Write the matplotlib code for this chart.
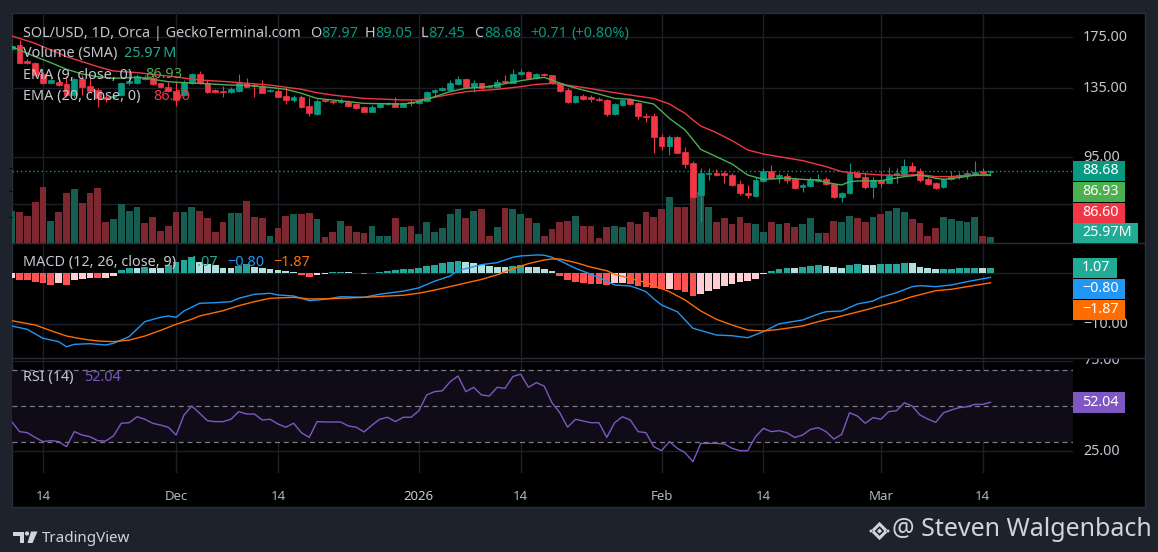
import numpy as np
import pandas as pd
import matplotlib
matplotlib.use("Agg")
import matplotlib.pyplot as plt
import matplotlib.dates as mdates
from matplotlib import transforms
from matplotlib.patches import Rectangle, Polygon, Circle
from matplotlib.lines import Line2D

plt.rcParams['font.family'] = ['Noto Sans', 'DejaVu Sans']

# ---------------- data ----------------
dates = pd.date_range("2025-11-10", "2026-03-15", freq="D")

opens = [164.6, 168.3, 154.8, 153.3, 145.2, 138.9, 139.6, 137.9, 130.4, 141.3,
         136.6, 133.8, 129.3, 128.9, 130.4, 138.9, 138.9, 143.2, 142.0, 138.4,
         136.1, 133.3, 130.4, 138.4, 145.2, 138.9, 133.8, 133.3, 132.5, 133.3,
         138.4, 137.2, 136.6, 132.9, 133.3, 129.8, 127.2, 129.3, 123.3, 118.4,
         127.2, 126.6, 125.9, 126.1, 124.4, 122.9, 119.9, 122.5, 124.4, 125.0,
         122.9, 126.1, 125.0, 126.8, 132.5, 133.8, 133.8, 137.9, 141.3, 135.6,
         138.4, 136.6, 135.6, 140.1, 138.9, 145.2, 147.0, 142.5, 145.2, 144.2,
         138.4, 133.8, 126.1, 129.8, 128.9, 128.0, 127.2, 118.4, 124.0, 127.6,
         125.0, 117.2, 117.2, 105.5, 100.6, 105.1, 97.6, 92.1, 78.4, 87.3,
         87.9, 87.6, 86.8, 82.9, 79.3, 78.0, 84.3, 88.7, 85.8, 86.4,
         84.9, 81.5, 82.1, 84.3, 84.9, 82.9, 77.7, 79.1, 87.9, 85.8,
         81.8, 84.6, 83.5, 86.8, 87.3, 90.9, 88.7, 84.9, 83.5, 81.5,
         84.9, 85.8, 87.0, 87.0, 88.4, 87.97]
highs = [168.0, 172.6, 156.4, 154.6, 147.0, 143.2, 143.2, 143.7, 142.0, 144.5,
         143.2, 135.0, 130.4, 130.6, 139.6, 147.0, 145.2, 144.2, 144.5, 138.9,
         139.6, 139.6, 140.8, 146.2, 147.7, 140.8, 134.7, 136.6, 136.1, 145.2,
         142.0, 138.4, 140.8, 134.7, 135.0, 135.6, 130.4, 130.4, 129.3, 127.6,
         127.6, 127.2, 128.2, 127.2, 125.0, 123.3, 123.7, 125.4, 125.9, 129.3,
         126.1, 127.6, 127.6, 133.3, 134.3, 136.1, 140.8, 143.7, 142.0, 140.8,
         138.9, 137.2, 141.3, 144.5, 148.7, 148.7, 147.7, 145.7, 146.2, 144.5,
         138.9, 135.0, 130.4, 131.1, 130.4, 128.9, 128.0, 125.0, 128.0, 128.6,
         126.1, 118.8, 118.8, 107.0, 106.6, 105.9, 99.9, 93.4, 89.8, 89.8,
         89.3, 88.7, 87.6, 84.6, 82.5, 86.1, 89.8, 91.3, 87.6, 87.9,
         85.8, 83.2, 85.8, 87.3, 86.1, 83.5, 79.7, 92.1, 88.7, 88.3,
         86.1, 88.7, 90.2, 89.8, 94.0, 92.9, 89.8, 86.1, 83.9, 85.4,
         88.7, 88.3, 89.0, 93.1, 89.8, 89.05]
lows = [164.0, 153.3, 152.8, 143.7, 137.9, 138.4, 136.6, 129.3, 129.3, 130.4,
        132.7, 122.5, 126.1, 128.0, 129.8, 137.2, 137.9, 140.8, 137.2, 135.6,
        132.7, 123.3, 129.8, 137.9, 137.9, 131.6, 132.0, 129.3, 131.6, 132.7,
        135.6, 129.3, 131.6, 132.5, 128.9, 124.4, 126.1, 121.9, 117.2, 117.8,
        125.9, 124.8, 125.0, 122.9, 121.7, 119.7, 119.5, 122.1, 123.7, 122.5,
        122.5, 123.3, 124.6, 126.1, 129.8, 133.3, 133.3, 137.2, 135.0, 132.7,
        134.3, 135.0, 135.0, 138.9, 138.4, 144.5, 142.0, 141.8, 143.7, 137.9,
        132.7, 125.4, 125.4, 127.2, 126.1, 126.8, 117.2, 117.8, 123.3, 124.0,
        115.7, 113.7, 97.2, 98.6, 96.1, 96.9, 89.8, 77.1, 68.4, 84.6,
        86.4, 83.2, 82.1, 78.4, 77.1, 77.7, 83.9, 84.9, 83.2, 83.2,
        80.7, 79.7, 81.8, 83.9, 82.5, 77.4, 75.7, 78.8, 85.4, 80.7,
        77.4, 81.8, 82.9, 83.5, 86.8, 88.3, 83.9, 82.5, 80.7, 81.1,
        84.6, 85.1, 85.1, 86.4, 86.8, 87.45]
closes = [167.4, 153.8, 153.3, 144.5, 138.4, 140.8, 137.2, 130.4, 141.3, 135.6,
          133.3, 128.2, 127.6, 129.8, 138.4, 140.1, 143.7, 141.8, 137.9, 136.1,
          133.3, 127.2, 139.6, 145.2, 138.9, 132.7, 132.5, 132.7, 134.3, 138.4,
          136.1, 136.6, 132.0, 133.8, 129.3, 127.2, 129.3, 122.5, 118.8, 126.8,
          126.6, 125.6, 126.8, 123.3, 122.3, 119.9, 122.9, 124.6, 125.0, 122.9,
          125.4, 125.0, 127.2, 132.7, 133.8, 135.0, 138.9, 141.5, 135.6, 138.9,
          135.0, 135.6, 139.6, 139.4, 145.2, 147.0, 142.5, 145.2, 144.2, 138.4,
          133.3, 126.1, 129.8, 127.6, 127.6, 127.2, 118.4, 124.6, 127.2, 124.6,
          117.2, 116.4, 105.1, 100.6, 105.1, 97.2, 91.8, 77.7, 87.6, 87.9,
          87.0, 87.0, 82.5, 79.1, 78.4, 84.6, 88.7, 85.4, 86.8, 84.6,
          81.1, 82.5, 84.9, 84.9, 82.9, 77.7, 79.3, 87.9, 85.8, 81.8,
          84.6, 83.5, 86.8, 87.6, 90.9, 88.7, 84.6, 82.9, 81.1, 84.9,
          85.8, 86.8, 87.6, 88.1, 87.9, 88.68]
change_text = ["+0.71", "(+0.80%)"]
# volume, millions
volumes = [102, 99, 86, 128, 179, 70, 99, 157, 170, 125, 157, 173, 67, 74, 122, 102, 115, 61, 83, 38, 54,
           99, 96, 112, 102, 77, 32, 64, 93, 93, 134, 83, 77, 22, 45, 86, 90, 90, 93, 74, 16, 32, 70, 54,
           35, 29, 54, 22, 22, 77, 48, 54,
           26, 67, 32, 45, 90, 106, 77, 102, 106, 22, 51, 109, 106, 90, 77, 61, 22, 42, 64, 70, 86, 54,
           54, 13, 48, 54, 51, 64, 58, 96, 80,
           106, 144, 112, 112, 224, 160, 115, 64, 77, 58, 80, 61, 58, 35, 64, 58, 61, 51, 58, 77, 29, 29,
           70, 67, 86, 77, 64, 80,
           90, 102, 109, 99, 74, 61, 22, 45, 80, 74, 70, 64, 80, 22, 16]
vol_sma_last = 25.97

ema9_idx = [0, 3, 5, 7, 9, 11, 13, 16, 18, 20, 22, 24, 28, 30, 33, 35, 37, 39, 41, 45,
            50, 52, 54, 56, 58, 60, 62, 65, 67, 68, 69, 71, 73, 75, 77, 79, 82, 84, 86, 88,
            90, 92, 94, 96, 99, 101, 103, 104, 106, 107, 108, 111, 114, 116, 118, 119, 121, 123, 125]
ema9 = [166.8, 158.6, 153.8, 148.7, 145.2, 143.2, 142.0, 142.7, 141.3, 139.6,
        138.9, 138.4, 137.2, 137.0, 135.6, 134.3, 131.6, 128.2, 127.2, 125.0,
        124.6, 126.1, 129.3, 132.7, 135.0, 135.6, 137.2, 140.3, 142.0, 142.7,
        140.8, 136.6, 133.8, 131.1, 128.2, 127.6, 124.6, 115.8, 109.2, 98.9,
        95.3, 91.8, 86.8, 84.9, 85.4, 84.9, 84.6, 83.5, 82.5, 83.9,
        84.2, 84.3, 86.1, 86.8, 85.4, 84.9, 85.7, 86.7, 86.93]
ema20_idx = [0, 3, 7, 11, 13, 16, 20, 24, 28, 33, 37, 39, 41, 45, 50, 52, 54, 56, 58, 62,
             65, 67, 69, 70, 73, 77, 79, 82, 84, 86, 87, 88, 90, 92, 94, 96, 101, 104, 106, 108,
             111, 114, 116, 118, 120, 122, 125]
ema20 = [176.2, 169.7, 158.6, 150.7, 147.4, 146.2, 143.7, 140.8, 139.4, 137.2,
         134.3, 132.0, 130.4, 128.2, 127.2, 127.2, 128.9, 130.9, 132.7, 134.3,
         136.1, 137.7, 138.4, 137.9, 135.6, 132.0, 130.4, 128.2, 124.6, 118.8,
         114.9, 111.4, 107.7, 103.4, 98.6, 96.6, 93.4, 90.6, 88.3, 87.6,
         86.8, 86.7, 87.0, 86.1, 86.1, 86.7, 86.60]

macd_idx = [0, 2, 4, 6, 7, 8, 10, 12, 13, 15, 17, 19, 20, 21, 22, 24, 26, 28, 29, 31,
            33, 34, 36, 38, 40, 42, 45, 47, 50, 52, 54, 56, 57, 58, 60, 62, 64, 65, 67, 68,
            69, 70, 72, 74, 76, 77, 79, 80, 81, 82, 83, 85, 86, 87, 89, 90, 92, 94, 96, 98,
            101, 103, 104, 106, 108, 110, 111, 113, 115, 116, 118, 120, 122, 125]
macd_line = [-10.33, -10.99, -12.75, -13.4, -14.4, -13.93, -13.8, -14.06, -13.73, -12.42,
             -9.48, -8.63, -8.37, -8.63, -7.39, -5.88, -5.76, -5.56, -4.9, -4.12,
             -3.92, -4.25, -4.45, -5.37, -5.10, -4.59, -4.7, -4.1, -3.5, -2.85,
             -1.55, -0.53, 0.6, 0.9, 1.7, 2.09, 3.14, 3.4, 3.59, 3.55,
             3.14, 2.48, 0.98, -0.2, -1.5, -2.29, -2.49, -3.0, -3.61, -5.0,
             -6.22, -7.53, -9.16, -10.78, -11.65, -12.1, -12.24, -12.63, -11.45, -9.9,
             -9.16, -7.98, -7.53, -7.39, -6.02, -5.43, -4.71, -3.80, -2.62, -2.42,
             -2.62, -2.29, -1.64, -0.80]
signal_idx = [0, 3, 5, 7, 9, 11, 13, 15, 17, 19, 21, 23, 24, 27, 29, 31, 33, 36, 38, 41,
              42, 45, 50, 52, 54, 56, 58, 60, 62, 64, 66, 68, 69, 70, 72, 74, 76, 77, 79, 81,
              82, 84, 86, 88, 90, 92, 94, 96, 98, 101, 103, 106, 109, 111, 113, 115, 116, 118, 120, 122,
              125]
signal_line = [-9.29, -10.14, -11.25, -12.29, -12.88, -13.27, -13.4, -13.1, -12.3, -11.2,
               -10.0, -9.0, -8.37, -7.33, -6.35, -5.56, -4.9, -4.71, -5.04, -4.97,
               -4.9, -4.71, -4.3, -3.9, -3.3, -2.6, -1.9, -1.2, -0.3, 0.9,
               1.9, 2.6, 2.8, 2.8, 2.1, 1.2, 0.5, -0.2, -1.0, -1.8,
               -2.4, -3.61, -5.24, -7.39, -9.02, -10.14, -11.12, -11.31, -11.0, -10.33,
               -9.48, -8.37, -7.2, -6.35, -5.56, -4.58, -4.2, -3.41, -3.14, -2.62,
               -1.87]
macd_hist = [-0.98, -1.31, -1.35, -1.63, -1.96, -2.29, -1.96, -2.29, -1.31, -1.11,
             -0.98, -1.02, -0.85, -0.52, 0.65, 1.11, 0.98, 1.31, 1.11, 0.98,
             1.63, 2.16, 2.61, 3.27, 2.29, 1.76, 1.63, 1.11, 1.05, 1.44,
             1.76, 1.31, 1.11, 0.85, 0.59, 0.46, 0.20, -0.33, -0.65, -0.33,
             -0.20, 0.20, 0.33, 0.26, 0.13, -0.13, 0.13, 0.26, 0.52, 0.72,
             0.75, 0.92, 0.95, 1.44, 1.70, 1.96, 2.22, 2.42, 2.22, 1.96,
             1.70, 1.50, 1.31, 1.18, 1.44, 1.63, 1.31, 1.18, 0.92, 0.46,
             -0.52, -1.31, -1.70, -1.96, -2.09, -2.12, -2.29, -1.96, -1.90, -2.09,
             -2.48, -2.75, -2.94, -3.14, -3.10, -3.27, -3.66, -4.38, -4.05, -3.46,
             -3.07, -2.42, -2.03, -1.76, -1.57, -1.11, -0.13, 0.46, 0.85, 1.05,
             1.00, 1.31, 1.44, 1.63, 1.44, 1.18, 1.05, 1.70, 1.83, 1.70,
             1.68, 1.76, 1.83, 1.90, 2.03, 1.96, 1.31, 0.98, 0.85, 0.87,
             0.92, 0.94, 0.98, 1.00, 0.98, 1.07]

rsi = [41.4, 35.9, 35.3, 32.7, 30.4, 30.9, 30.4, 27.6, 35.9, 34.0,
       33.1, 30.9, 30.7, 33.5, 40.5, 40.8, 44.1, 42.7, 40.5, 39.5,
       38.3, 34.0, 45.0, 50.0, 46.0, 41.9, 41.4, 41.4, 42.7, 46.9,
       45.6, 45.6, 42.3, 42.7, 40.1, 38.3, 40.5, 35.3, 32.7, 41.4,
       41.2, 41.2, 41.2, 39.0, 38.3, 35.7, 39.4, 42.7, 43.8, 41.4,
       43.8, 43.8, 47.4, 56.1, 57.9, 58.4, 63.4, 66.5, 57.9, 60.3,
       56.1, 55.5, 60.3, 59.7, 66.2, 67.6, 60.3, 62.9, 61.0, 51.8,
       46.3, 38.3, 42.7, 41.7, 40.8, 40.8, 32.7, 40.8, 44.1, 42.3,
       35.9, 35.3, 27.6, 25.4, 30.4, 26.7, 24.3, 19.3, 29.4, 29.4,
       29.4, 29.1, 26.7, 25.4, 25.4, 33.1, 37.7, 35.9, 36.4, 35.3,
       32.7, 34.0, 37.1, 38.1, 35.9, 31.8, 34.4, 46.3, 44.5, 40.5,
       43.6, 42.7, 46.9, 47.4, 51.8, 50.0, 45.0, 42.8, 41.0, 46.3,
       47.8, 49.1, 49.6, 50.9, 50.9, 52.04]

price_ticks = [175, 135, 95]
price_grid = [175, 135, 95, 75]
macd_ticks = [-10]
macd_grid = [0, -10]
rsi_ticks = [75, 25]
rsi_levels = [70, 50, 30]
time_ticks = ["2025-11-14", "2025-12-01", "2025-12-14", "2026-01-01", "2026-01-14",
              "2026-02-01", "2026-02-14", "2026-03-01", "2026-03-14"]
time_labels = ["14", "Dec", "14", "2026", "14", "Feb", "14", "Mar", "14"]

# ---------------- style ----------------
W, H = 1158, 552
BORDER = "#1e222d"
GRID = "#1c1f26"
SEP = "#2a2e39"
TXT = "#c4c7cf"
UP, DOWN = "#089981", "#f23645"
VOL_UP, VOL_DOWN = "#175c51", "#7d2830"
EMA9_C, EMA20_C = "#4caf50", "#f23645"
MACD_C, SIG_C = "#2196f3", "#ff6d00"
RSI_C = "#7e57c2"
LEG = 10.4

fig = plt.figure(figsize=(W / 100, H / 100), dpi=100)
fig.patch.set_facecolor(BORDER)
pix = transforms.Affine2D().scale(1.0 / W, -1.0 / H).translate(0, 1) + fig.transFigure

fig.add_artist(Rectangle((12, 13), 1133, 494, transform=pix, fc="black",
                         ec=SEP, lw=1, zorder=-5))


def add_axes(x0, y0, x1, y1, **kw):
    ax = fig.add_axes([x0 / W, 1 - y1 / H, (x1 - x0) / W, (y1 - y0) / H], **kw)
    ax.set_facecolor("none")
    for s in ax.spines.values():
        s.set_visible(False)
    ax.tick_params(left=False, right=False, top=False, bottom=False,
                   labelleft=False, labelright=False, labelbottom=False)
    return ax


xnum = mdates.date2num(dates)
XLIM = (xnum[0] + 0.04, xnum[0] + 135.54)
tick_nums = mdates.date2num(pd.to_datetime(time_ticks))

ax_vol = add_axes(12, 13, 1073, 242.5)
ax_main = add_axes(12, 13, 1073, 242.5, sharex=ax_vol)
ax_macd = add_axes(12, 243.5, 1073, 357, sharex=ax_vol)
ax_rsi = add_axes(12, 358, 1073, 473, sharex=ax_vol)
ax_vol.set_xlim(*XLIM)

ax_main.set_yscale("log")
ax_main.set_ylim(61.56, 198.05)
ax_vol.set_ylim(0, 734)
ax_macd.set_ylim(-16.41, 5.84)
ax_rsi.set_ylim(13.09, 76.45)

# price scale columns
ax_ms = add_axes(1073, 13, 1145, 242.5)
ax_ms.set_yscale("log")
ax_ms.set_ylim(ax_main.get_ylim())
ax_cs = add_axes(1073, 243.5, 1145, 357)
ax_cs.set_ylim(ax_macd.get_ylim())
ax_rs = add_axes(1073, 358, 1145, 473)
ax_rs.set_ylim(ax_rsi.get_ylim())

for ax in (ax_vol, ax_macd, ax_rsi):
    for t in tick_nums:
        ax.axvline(t, color=GRID, lw=1, zorder=0)

grid_tr = transforms.blended_transform_factory(ax_vol.transAxes, ax_main.transData)
for p in price_grid:
    ax_vol.add_line(Line2D([0, 1], [p, p], transform=grid_tr, color=GRID, lw=1, zorder=0))

# volume
o = np.array(opens)
c = np.array(closes)
up = c >= o
ax_vol.bar(xnum, volumes, width=0.86, color=np.where(up, VOL_UP, VOL_DOWN), lw=0, zorder=2)

# candles
cols = np.where(up, UP, DOWN)
ax_main.vlines(xnum, lows, highs, colors=cols, lw=0.8, zorder=3)
ax_main.bar(xnum, np.abs(c - o), bottom=np.minimum(o, c), width=0.74, color=cols,
            edgecolor=cols, lw=0.5, zorder=3)
ax_main.plot(xnum[ema20_idx], ema20, color=EMA20_C, lw=1.0, zorder=4)
ax_main.plot(xnum[ema9_idx], ema9, color=EMA9_C, lw=1.0, zorder=4)
ax_main.axhline(closes[-1], color=UP, lw=1, ls=(0, (1, 2)), zorder=2)

# MACD
h = np.array(macd_hist)
prev = np.concatenate([[h[0]], h[:-1]])
hist_cols = np.where(h >= 0, np.where(h > prev, "#26a69a", "#b2dfdb"),
                     np.where(h < prev, "#ff5252", "#ffcdd2"))
for g in macd_grid:
    ax_macd.axhline(g, color=GRID, lw=1, zorder=0)
ax_macd.bar(xnum, h, width=0.86, color=hist_cols, lw=0, zorder=2)
ax_macd.plot(xnum[macd_idx], macd_line, color=MACD_C, lw=1.0, zorder=3)
ax_macd.plot(xnum[signal_idx], signal_line, color=SIG_C, lw=1.0, zorder=3)

# RSI
ax_rsi.axhspan(rsi_levels[-1], rsi_levels[0], color="#0f0c17", lw=0, zorder=0)
for g in rsi_ticks:
    ax_rsi.axhline(g, color=GRID, lw=1, zorder=0)
for lv in rsi_levels:
    ax_rsi.axhline(lv, color="#787b86", lw=0.9, ls=(0, (4, 3)), zorder=1)
ax_rsi.plot(xnum, rsi, color=RSI_C, lw=1.0, zorder=3)

# time axis labels
ax_rsi.set_xticks(tick_nums)
ax_rsi.set_xticklabels(time_labels)
ax_rsi.tick_params(labelbottom=True, pad=9, labelsize=9.5, labelcolor="#b2b5be")
for lab in ax_rsi.get_xticklabels():
    if lab.get_text() == "2026":
        lab.set_fontweight("bold")
        lab.set_color(TXT)


def fmt(v):
    return f"{v:.2f}".replace("-", "\u2212")


# right-hand scale labels (clipped to their pane)
def scale_labels(ax, values):
    tr = transforms.blended_transform_factory(ax.transAxes, ax.transData)
    for v in values:
        ax.text(0.139, v, fmt(v), transform=tr, color=TXT,
                fontsize=10.3, ha="left", va="center", clip_on=True)


scale_labels(ax_ms, price_ticks)
scale_labels(ax_cs, macd_ticks)
scale_labels(ax_rs, rsi_ticks)

# pane separators
for ys in (243, 357.5):
    fig.add_artist(Line2D([12, 1145], [ys, ys], transform=pix, color=SEP, lw=1, zorder=3))

renderer = fig.canvas.get_renderer()


# legends
def ftext(x, y, s, color, size=LEG, **kw):
    return fig.text(x, y, s, transform=pix, color=color, fontsize=size,
                    ha="left", va="center", zorder=6, **kw)


def right_of(t, gap=0.5):
    return t.get_window_extent(renderer).x1 + gap


ftext(22.7, 33.3, "SOL/USD, 1D, Orca | GeckoTerminal.com", TXT)
for x, lab, val in [(309.7, "O", opens[-1]), (364.5, "H", highs[-1]),
                    (420.7, "L", lows[-1]), (474.5, "C", closes[-1])]:
    t = ftext(x, 33.3, lab, TXT)
    ftext(right_of(t), 33.3, f"{val:.2f}", UP)
ftext(530, 33.3, change_text[0], UP)
ftext(571.7, 33.3, change_text[1], UP)
ftext(22.7, 53.7, "Volume (SMA)", TXT)
ftext(123.7, 53.7, f"{vol_sma_last:.2f}\u2009M", "#22ab94")
ftext(22.7, 75.0, "EMA (9, close, 0)", TXT)
ftext(145.7, 75.0, f"{ema9[-1]:.2f}", EMA9_C)
ftext(22.7, 96.3, "EMA (20, close, 0)", TXT)
ftext(153.3, 96.3, f"{ema20[-1]:.2f}", EMA20_C)
ftext(22.7, 262.7, "MACD (12, 26, close, 9)", TXT)
ftext(189.5, 262.7, fmt(macd_hist[-1]), "#22ab94")
ftext(227.0, 262.7, fmt(macd_line[-1]), MACD_C)
ftext(273.3, 262.7, fmt(signal_line[-1]), SIG_C)
ftext(22.7, 377.7, "RSI (14)", TXT)
ftext(84.0, 377.7, f"{rsi[-1]:.2f}", RSI_C)


# value badges on the scale
def ypix(ax, v):
    return H - ax.transData.transform((XLIM[0], v))[1]


def badge(yc, label, color):
    t = fig.text(1082, yc, label, transform=pix, color="white", fontsize=10.3,
                 ha="left", va="center", zorder=9)
    bb = t.get_window_extent(renderer)
    fig.add_artist(Rectangle((1073, yc - 10.2), bb.x1 + 6 - 1073, 20.4, transform=pix,
                             fc=color, ec="none", zorder=8))


def stack(items, bottom):
    last = -1e9
    for ax, v, label, color in items:
        yc = min(max(ypix(ax, v), last + 21), bottom)
        badge(yc, label, color)
        last = yc


stack([(ax_main, closes[-1], f"{closes[-1]:.2f}", UP),
       (ax_main, ema9[-1], f"{ema9[-1]:.2f}", EMA9_C),
       (ax_main, ema20[-1], f"{ema20[-1]:.2f}", EMA20_C),
       (ax_vol, vol_sma_last, f"{vol_sma_last:.2f}M", "#22ab94")], 233)
stack([(ax_macd, macd_hist[-1], fmt(macd_hist[-1]), "#22ab94"),
       (ax_macd, macd_line[-1], fmt(macd_line[-1]), MACD_C),
       (ax_macd, signal_line[-1], fmt(signal_line[-1]), SIG_C)], 346)
stack([(ax_rsi, rsi[-1], f"{rsi[-1]:.2f}", RSI_C)], 462)

# footer: TradingView logo + watermark
LOGO = "#d1d4dc"
fig.add_artist(Polygon([(13, 531.5), (24, 531.5), (24, 543), (19.5, 543), (19.5, 535.5), (13, 535.5)],
                       closed=True, transform=pix, fc=LOGO, ec="none"))
fig.add_artist(Circle((27, 533.5), 2.1, transform=pix, fc=LOGO, ec="none"))
fig.add_artist(Polygon([(31, 531.5), (37.5, 531.5), (32.5, 543), (27.5, 543)],
                       closed=True, transform=pix, fc=LOGO, ec="none"))
ftext(42, 538, "TradingView", LOGO, size=10.9)

cx, cy = 879.5, 531
fig.add_artist(Line2D([cx - 5.5, cx, cx + 5.5], [cy - 1.5, cy - 7, cy - 1.5], transform=pix,
                      color=LOGO, lw=2.2, solid_joinstyle="miter"))
fig.add_artist(Line2D([cx - 5.5, cx, cx + 5.5], [cy + 1.5, cy + 7, cy + 1.5], transform=pix,
                      color=LOGO, lw=2.2, solid_joinstyle="miter"))
for dx, r in [(0, 2.6), (-8.5, 1.9), (8.5, 1.9)]:
    fig.add_artist(Polygon([(cx + dx - r, cy), (cx + dx, cy - r), (cx + dx + r, cy), (cx + dx, cy + r)],
                           closed=True, transform=pix, fc=LOGO, ec="none"))
ftext(892, 530, "@ Steven Walgenbach", LOGO, size=18)

fig.savefig("out.png", dpi=100, facecolor=fig.get_facecolor())
